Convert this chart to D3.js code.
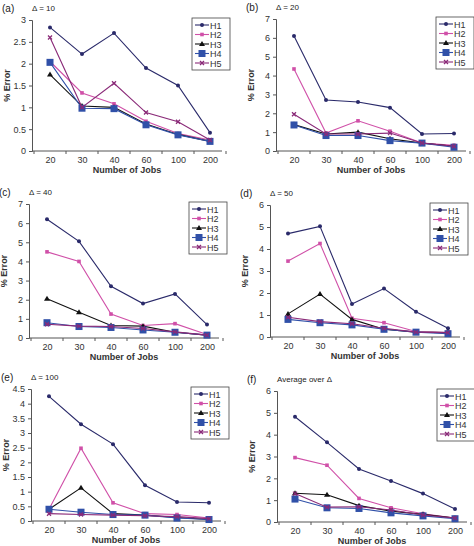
<!DOCTYPE html><html><head><meta charset="utf-8">
<script src="https://cdn.jsdelivr.net/npm/d3@7"></script>
<style>body{margin:0;background:#fff}text{font-family:Arial,"Liberation Sans",sans-serif}</style></head><body>
<svg id="c" width="474" height="546"></svg>
<script>
const jobs=["20","30","40","60","100","200"];
const seriesNames=["H1","H2","H3","H4","H5"];
const colors=["#2a2a6a","#d050a8","#111111","#3050a8","#8a2a78"];
const titles=["Δ = 10","Δ = 20","Δ = 40","Δ = 50","Δ = 100","Average over Δ"];
const letters=["(a)","(b)","(c)","(d)","(e)","(f)"];
const yMax=[3,7,7,6,4.5,6];
const yStep=[0.5,1,1,1,0.5,1];
const dA=[[2.83,2.22,2.7,1.9,1.5,0.42],[2.05,1.33,1.08,0.68,0.4,0.25],[1.75,1.03,1.0,0.62,0.38,0.22],[2.03,0.98,0.97,0.6,0.37,0.22],[2.6,1.0,1.55,0.88,0.67,0.25]];
const dB=[[6.1,2.7,2.6,2.3,0.9,0.93],[4.35,0.95,1.6,1.05,0.42,0.3],[1.4,0.9,1.0,0.65,0.42,0.25],[1.38,0.82,0.82,0.55,0.42,0.2],[1.95,0.9,0.9,0.95,0.42,0.25]];
const dC=[[6.2,5.05,2.7,1.8,2.3,0.7],[4.5,4.0,1.25,0.65,0.75,0.18],[2.05,1.35,0.65,0.62,0.3,0.15],[0.8,0.6,0.55,0.42,0.3,0.15],[0.72,0.62,0.6,0.5,0.32,0.15]];
const dD=[[4.7,5.03,1.5,2.2,1.15,0.4],[3.45,4.25,0.85,0.65,0.25,0.2],[1.05,1.95,0.8,0.35,0.22,0.2],[0.8,0.65,0.55,0.35,0.22,0.15],[0.9,0.7,0.6,0.4,0.22,0.2]];
const dE=[[4.25,3.3,2.62,1.22,0.65,0.62],[0.4,2.48,0.62,0.25,0.22,0.1],[0.4,1.13,0.25,0.2,0.12,0.05],[0.4,0.3,0.22,0.2,0.1,0.05],[0.25,0.22,0.2,0.18,0.15,0.08]];
const dF=[[4.82,3.65,2.43,1.88,1.3,0.6],[2.95,2.6,1.08,0.65,0.38,0.18],[1.32,1.25,0.75,0.5,0.35,0.18],[1.05,0.65,0.62,0.42,0.28,0.15],[1.3,0.68,0.7,0.55,0.32,0.18]];
const data=[dA,dB,dC,dD,dE,dF];
// layout: [axisX, right, top, bottom]
const L=[[32,224,20,151],[276,474,19,151],[29,224,204,338],[270,474,205,337],[31,224,389,521],[277,474,391,522]];
const svg=d3.select("#c");
data.forEach((d,i)=>{
  const [ax,r,t,b]=L[i];
  const g=svg.append("g");
  const x=d3.scalePoint().domain(jobs).range([ax+18,ax+178]);
  const y=d3.scaleLinear().domain([0,yMax[i]]).range([b,t]);
  const ticks=d3.range(0,yMax[i]+1e-9,yStep[i]);
  const ya=g.append("g").attr("transform",`translate(${ax},0)`).call(d3.axisLeft(y).tickValues(ticks).tickSize(3).tickFormat(d3.format("~g")));
  const xa=g.append("g").attr("transform",`translate(0,${b})`).call(d3.axisBottom(x).tickSize(0).tickPadding(6));
  xa.select(".domain").attr("d",`M${ax},0H${ax+190}`);
  const step=x.step();
  jobs.forEach((j,k)=>{xa.append("line").attr("x1",x(j)+step/2).attr("x2",x(j)+step/2).attr("y1",0).attr("y2",3).attr("stroke","#000");});
  xa.append("line").attr("x1",x(jobs[0])-step/2).attr("x2",x(jobs[0])-step/2).attr("y1",0).attr("y2",3).attr("stroke","#000");
  [ya,xa].forEach(a=>{a.selectAll("text").attr("font-size",9).attr("fill","#333");a.selectAll("path,line").attr("stroke","#555");});
  g.append("text").attr("x",ax+95).attr("y",b+22).attr("text-anchor","middle").attr("font-size",9).attr("font-weight","bold").attr("fill","#333").text("Number of Jobs");
  g.append("text").attr("transform",`translate(${ax-22},${(t+b)/2}) rotate(-90)`).attr("text-anchor","middle").attr("font-size",9).attr("font-weight","bold").attr("fill","#333").text("% Error");
  g.append("text").attr("x",ax-30).attr("y",t-8).attr("font-size",10).attr("fill","#222").text(letters[i]);
  g.append("text").attr("x",ax).attr("y",t-9).attr("font-size",8).attr("fill","#222").text(titles[i]);
  const line=d3.line().x((v,k)=>x(jobs[k])).y(v=>y(v));
  d.forEach((s,si)=>{
    g.append("path").attr("d",line(s)).attr("fill","none").attr("stroke",colors[si]).attr("stroke-width",1.1);
    s.forEach((v,k)=>marker(g,x(jobs[k]),y(v),si));
  });
  // legend
  const lx=ax+160, ly=t-2;
  g.append("rect").attr("x",lx).attr("y",ly).attr("width",38).attr("height",52).attr("fill","#fff").attr("stroke","#444").attr("stroke-width",0.8);
  seriesNames.forEach((n,si)=>{
    const yy=ly+7+si*9.5;
    g.append("line").attr("x1",lx+3).attr("x2",lx+17).attr("y1",yy).attr("y2",yy).attr("stroke",colors[si]).attr("stroke-width",1.1);
    marker(g,lx+10,yy,si);
    g.append("text").attr("x",lx+18).attr("y",yy+3.5).attr("font-size",9).attr("fill","#333").text(n);
  });
});
function marker(g,cx,cy,si){
  const c=colors[si];
  if(si===0) g.append("circle").attr("cx",cx).attr("cy",cy).attr("r",2).attr("fill",c);
  else if(si===1) g.append("rect").attr("x",cx-1.8).attr("y",cy-1.8).attr("width",3.6).attr("height",3.6).attr("fill",c);
  else if(si===2) g.append("path").attr("d",`M${cx},${cy-3}L${cx+3},${cy+2}L${cx-3},${cy+2}Z`).attr("fill",c);
  else if(si===3) g.append("rect").attr("x",cx-3.5).attr("y",cy-3.5).attr("width",7).attr("height",7).attr("fill",c);
  else g.append("path").attr("d",`M${cx-2},${cy-2}L${cx+2},${cy+2}M${cx+2},${cy-2}L${cx-2},${cy+2}`).attr("stroke",c).attr("stroke-width",1.3);
}
</script></body></html>
